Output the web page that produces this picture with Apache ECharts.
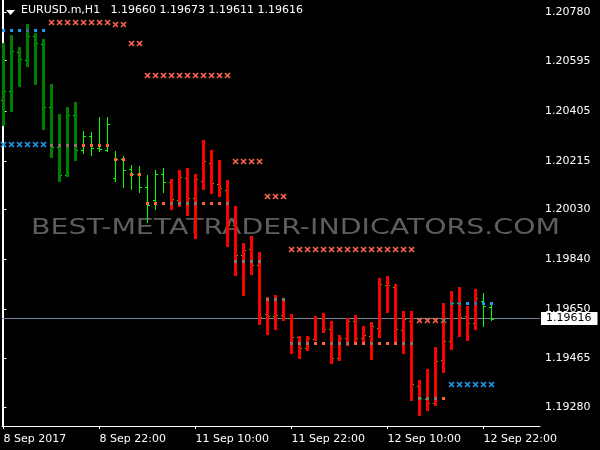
<!DOCTYPE html>
<html><head><meta charset="utf-8">
<script src="https://cdn.jsdelivr.net/npm/echarts@6/dist/echarts.min.js"></script>
<style>html,body{margin:0;padding:0;background:#000;}#c{width:600px;height:450px;}</style>
</head><body><div id="c"></div>
<script>
// bar kind: G = green trend bar, R = red trend bar, T = plain OHLC bar
const kinds = ['G','G','G','G','G','G','G','G','G','G',
  'T','T','T','T','T','T','T','T','T','T','T',
  'R','R','R','R','R','R','R','R','R','R','R','R','R','R','R','R','R','R','R','R',
  'R','R','R','R','R','R','R','R','R','R','R','R','R','R','R','R','R','R','R',
  'T','T'];
const opens = [1.20446,1.20479,1.20627,1.20597,1.20690,1.20657,1.20418,1.20266,1.20160,1.20389,
  1.20256,1.20308,1.20262,1.20256,1.20149,1.20221,1.20183,1.20165,1.20114,1.20066,
  1.20165,1.20135,1.20066,1.20149,1.20073,1.20137,1.20206,1.20126,1.20103,1.19970,
  1.19857,1.19880,1.19818,1.19632,1.19625,1.19628,1.19617,1.19546,1.19503,1.19537,
  1.19617,1.19575,1.19465,1.19541,1.19606,1.19541,1.19548,1.19579,1.19742,1.19734,
  1.19572,1.19606,1.19358,1.19311,1.19294,1.19458,1.19530,1.19674,1.19625,1.19598,
  1.19684,1.19660];
const highs = [1.20662,1.20693,1.20647,1.20734,1.20699,1.20678,1.20507,1.20393,1.20419,1.20438,
  1.20328,1.20324,1.20382,1.20382,1.20252,1.20233,1.20199,1.20195,1.20160,1.20180,
  1.20187,1.20146,1.20180,1.20188,1.20165,1.20294,1.20256,1.20218,1.20142,1.20043,
  1.19904,1.19929,1.19869,1.19698,1.19705,1.19694,1.19633,1.19550,1.19550,1.19626,
  1.19637,1.19607,1.19553,1.19618,1.19629,1.19588,1.19603,1.19770,1.19778,1.19747,
  1.19645,1.19645,1.19383,1.19424,1.19508,1.19675,1.19721,1.19736,1.19664,1.19728,
  1.19713,1.19673];
const lows = [1.20351,1.20405,1.20500,1.20576,1.20508,1.20337,1.20231,1.20139,1.20157,1.20218,
  1.20246,1.20237,1.20253,1.20253,1.20139,1.20114,1.20107,1.20098,1.19984,1.20033,
  1.20097,1.20032,1.20043,1.20009,1.19923,1.20108,1.20093,1.20081,1.19893,1.19781,
  1.19705,1.19785,1.19596,1.19557,1.19576,1.19610,1.19485,1.19466,1.19496,1.19534,
  1.19565,1.19447,1.19459,1.19516,1.19531,1.19523,1.19462,1.19546,1.19641,1.19527,
  1.19485,1.19307,1.19250,1.19269,1.19288,1.19413,1.19500,1.19550,1.19534,1.19576,
  1.19588,1.19611];
const closes = [1.20481,1.20632,1.20600,1.20688,1.20661,1.20418,1.20266,1.20160,1.20389,1.20256,
  1.20308,1.20262,1.20259,1.20354,1.20221,1.20179,1.20164,1.20114,1.20047,1.20165,
  1.20135,1.20069,1.20152,1.20073,1.20145,1.20213,1.20130,1.20111,1.19970,1.19857,
  1.19876,1.19820,1.19621,1.19625,1.19628,1.19617,1.19546,1.19503,1.19541,1.19617,
  1.19575,1.19465,1.19541,1.19606,1.19541,1.19552,1.19587,1.19746,1.19742,1.19575,
  1.19613,1.19366,1.19313,1.19294,1.19454,1.19530,1.19674,1.19621,1.19598,1.19693,
  1.19664,1.19616];
const _ = null;
const redCrosses = [_,_,_,_,_,_,
  1.20743,1.20743,1.20743,1.20743,1.20743,1.20743,1.20743,1.20743,
  1.20734,1.20734,1.20663,1.20663,
  1.20542,1.20542,1.20542,1.20542,1.20542,1.20542,1.20542,1.20542,1.20542,1.20542,1.20542,
  1.20214,1.20214,1.20214,1.20214,1.20082,1.20082,1.20082,
  1.19881,1.19881,1.19881,1.19881,1.19881,1.19881,1.19881,1.19881,1.19881,1.19881,1.19881,1.19881,1.19881,1.19881,1.19881,1.19881,
  1.19612,1.19612,1.19612,1.19612,
  _,_,_,_,_,_];
const redDots = [_,_,_,_,_,_,
  1.20274,1.20274,1.20274,1.20274,1.20274,1.20274,1.20274,1.20274,
  1.20220,1.20220,1.20164,1.20164,
  1.20054,1.20054,1.20054,1.20054,1.20054,1.20054,1.20054,1.20054,1.20054,1.20054,1.20054,
  1.19836,1.19836,1.19836,1.19836,1.19690,1.19690,1.19690,
  1.19522,1.19522,1.19522,1.19522,1.19522,1.19522,1.19522,1.19522,1.19522,1.19522,1.19522,1.19522,1.19522,1.19522,1.19522,1.19522,
  1.19313,1.19313,1.19313,1.19313,
  _,_,_,_,_,_];
const blueDots = [1.20712,1.20712,1.20712,1.20712,1.20712,1.20712,
  _,_,_,_,_,_,_,_,_,_,_,_,_,_,_,_,_,_,_,_,_,_,_,_,_,_,_,_,_,_,_,_,_,_,_,_,_,_,_,_,_,_,_,_,_,_,_,_,_,_,
  1.19674,1.19674,1.19674,1.19674,1.19674,1.19674];
const blueCrosses = [1.20280,1.20280,1.20280,1.20280,1.20280,1.20280,
  _,_,_,_,_,_,_,_,_,_,_,_,_,_,_,_,_,_,_,_,_,_,_,_,_,_,_,_,_,_,_,_,_,_,_,_,_,_,_,_,_,_,_,_,_,_,_,_,_,_,
  1.19369,1.19369,1.19369,1.19369,1.19369,1.19369];
const xTickIdx = [0,12,24,36,48,60];
const xTickLabels = ['8 Sep 2017','8 Sep 22:00','11 Sep 10:00','11 Sep 22:00','12 Sep 10:00','12 Sep 22:00'];
const yTicks = [1.20780,1.20595,1.20405,1.20215,1.20030,1.19840,1.19650,1.19465,1.19280];
const titleText = 'EURUSD.m,H1   1.19660 1.19673 1.19611 1.19616';
const watermark = 'BEST-METATRADER-INDICATORS.COM';

const N = kinds.length;
const XMIN = -0.1875, XMAX = 67.0625;
const YMIN = 1.192079, YMAX = 1.208256;
const barData = [];
for (let i = 0; i < N; i++) barData.push([i, opens[i], highs[i], lows[i], closes[i]]);
function pts(arr) { const r = []; arr.forEach((v, i) => { if (v !== null) r.push([i, v]); }); return r; }
function covered(i, v) { return kinds[i] !== 'T' && v <= highs[i] && v >= lows[i]; }

const LIME = '#00ff00';
function renderBar(params, api) {
  const i = api.value(0);
  const o = api.coord([i, api.value(1)]);
  const h = api.coord([i, api.value(2)]);
  const l = api.coord([i, api.value(3)]);
  const c = api.coord([i, api.value(4)]);
  const cx = Math.floor(h[0]);
  const yh = Math.round(h[1]), yl = Math.round(l[1]);
  const k = kinds[i];
  const ch = [
    {type:'rect', shape:{x:cx, y:yh, width:1, height:yl-yh+1}, style:{fill:LIME}},
    {type:'rect', shape:{x:cx-2, y:Math.round(o[1]), width:2, height:1}, style:{fill:LIME}},
    {type:'rect', shape:{x:cx+1, y:Math.round(c[1]), width:2, height:1}, style:{fill:LIME}}
  ];
  if (k !== 'T') ch.push({type:'rect', shape:{x:cx-1, y:yh, width:3, height:yl-yh+1}, style:{fill: k === 'G' ? '#008000' : '#ff0000'}});
  return {type:'group', children:ch};
}
function makeMarker(shape, bright, dim) {
  return function (params, api) {
    const i = api.value(0), v = api.value(1);
    const p = api.coord([i, v]);
    const col = covered(i, v) ? dim : bright;
    const px = Math.floor(p[0]), py = Math.round(p[1]);
    if (shape === 'dot') return {type:'rect', shape:{x:px-1, y:py-1, width:3, height:3}, style:{fill:col}};
    const x0 = px + 0.5, y0 = py + 0.5;
    return {type:'group', children:[
      {type:'line', shape:{x1:x0-2.5, y1:y0-2.5, x2:x0+2.5, y2:y0+2.5}, style:{stroke:col, lineWidth:1.6}},
      {type:'line', shape:{x1:x0+2.5, y1:y0-2.5, x2:x0-2.5, y2:y0+2.5}, style:{stroke:col, lineWidth:1.6}}
    ]};
  };
}
const FONT = 'DejaVu Sans';
const ORANGE = '#ff6347', ORANGE_DIM = '#8c766c', BLUE = '#1e9cf0', BLUE_DIM = '#3a6f9a';
const lastPrice = closes[N-1];

const chart = echarts.init(document.getElementById('c'), null, {renderer:'canvas'});
chart.setOption({
  backgroundColor:'#000',
  animation:false,
  title:{text:titleText, left:21, top:5, padding:0, textStyle:{color:'#fff', fontFamily:FONT, fontSize:11, fontWeight:'normal'}},
  graphic:[
    {type:'polygon', shape:{points:[[6,10],[15,10],[10.5,15]]}, style:{fill:'#fff'}, z:10},
    {type:'text', x:31, y:228, scaleX:1.29, z:-10, zlevel:0, silent:true,
     style:{text:watermark, font:'22px "DejaVu Sans"', fill:'#5e5e5e', verticalAlign:'middle'}}
  ],
  grid:{left:2, right:60, top:0, bottom:24, containLabel:false},
  xAxis:{type:'value', min:XMIN, max:XMAX,
    axisLine:{show:true, lineStyle:{color:'#fff', width:1}},
    axisTick:{show:true, length:3, inside:false, customValues:xTickIdx, lineStyle:{color:'#fff'}},
    axisLabel:{show:true, customValues:xTickIdx, align:'left', margin:8, color:'#fff', fontFamily:FONT, fontSize:11,
      formatter:function(v){ const k = xTickIdx.indexOf(Math.round(v)); return k >= 0 ? xTickLabels[k] : ''; }},
    splitLine:{show:false}},
  yAxis:[
    {type:'value', position:'right', min:YMIN, max:YMAX, scale:true,
      axisLine:{show:true, lineStyle:{color:'#fff', width:1}},
      axisTick:{show:true, length:3, inside:false, customValues:yTicks, lineStyle:{color:'#fff'}},
      axisLabel:{show:true, customValues:yTicks, margin:5, color:'#fff', fontFamily:FONT, fontSize:11,
        formatter:function(v){ return v.toFixed(5); }},
      splitLine:{show:false}},
    {type:'value', position:'left', min:YMIN, max:YMAX, scale:true,
      axisLine:{show:true, onZero:false, lineStyle:{color:'#fff', width:1}},
      axisTick:{show:false}, axisLabel:{show:false}, splitLine:{show:false}}
  ],
  series:[
    {type:'line', name:'price', data:[[XMIN, lastPrice],[XMAX, lastPrice]], z:1, silent:true,
      symbol:'none', lineStyle:{color:'#778899', width:1, type:'solid'},
      endLabel:{show:true, distance:1, formatter:lastPrice.toFixed(5),
        backgroundColor:'#fff', color:'#000', padding:[1,6,1,5], fontFamily:FONT, fontSize:11}},
    {type:'custom', name:'bars', renderItem:renderBar, data:barData, z:3, encode:{x:0, y:[1,2,3,4]}},
    {type:'custom', name:'redDots', renderItem:makeMarker('dot', ORANGE, ORANGE_DIM), data:pts(redDots), z:4, encode:{x:0,y:1}},
    {type:'custom', name:'redCrosses', renderItem:makeMarker('cross', ORANGE, ORANGE_DIM), data:pts(redCrosses), z:4, encode:{x:0,y:1}},
    {type:'custom', name:'blueDots', renderItem:makeMarker('dot', BLUE, BLUE_DIM), data:pts(blueDots), z:4, encode:{x:0,y:1}},
    {type:'custom', name:'blueCrosses', renderItem:makeMarker('cross', BLUE, BLUE_DIM), data:pts(blueCrosses), z:4, encode:{x:0,y:1}}
  ]
});
</script></body></html>
